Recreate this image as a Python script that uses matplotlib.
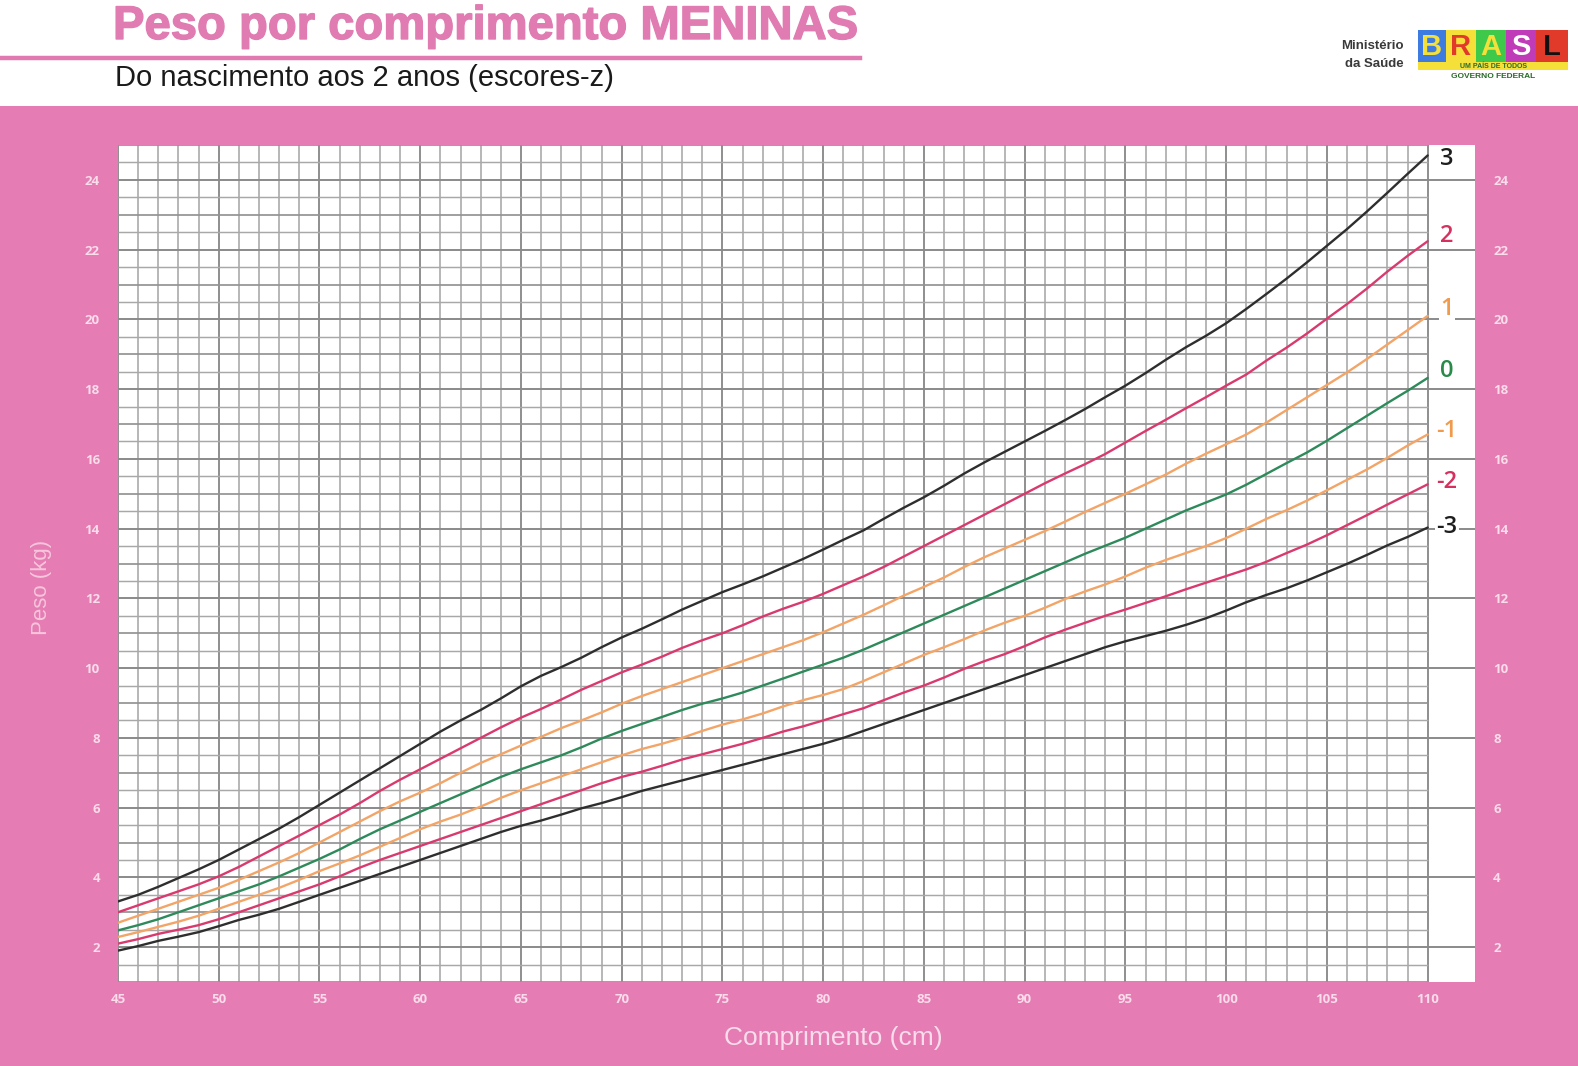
import numpy as np
import matplotlib
matplotlib.use("Agg")
import matplotlib.pyplot as plt
import matplotlib.patheffects as pe
from matplotlib.patches import Rectangle
from matplotlib.lines import Line2D

# ---------------- data ----------------
length_cm = list(range(45, 111))

z_p3 = [3.31, 3.5, 3.73, 3.98, 4.23, 4.5, 4.8, 5.1, 5.4, 5.73, 6.08, 6.43, 6.78, 7.13, 7.48,
        7.83, 8.18, 8.5, 8.8, 9.13, 9.48, 9.78, 10.03, 10.3, 10.6, 10.88, 11.13, 11.4, 11.68,
        11.93, 12.18, 12.4, 12.63, 12.88, 13.13, 13.4, 13.68, 13.95, 14.28, 14.6, 14.9, 15.23,
        15.58, 15.9, 16.2, 16.5, 16.8, 17.11, 17.43, 17.77, 18.1, 18.46, 18.84, 19.2, 19.53,
        19.89, 20.3, 20.73, 21.17, 21.63, 22.11, 22.59, 23.1, 23.63, 24.17, 24.7]
z_p2 = [3.0, 3.2, 3.4, 3.6, 3.8, 4.03, 4.3, 4.6, 4.9, 5.2, 5.5, 5.8, 6.13, 6.48, 6.8, 7.1,
        7.4, 7.7, 8.0, 8.3, 8.58, 8.83, 9.1, 9.38, 9.63, 9.88, 10.1, 10.33, 10.58, 10.8, 11.0,
        11.23, 11.48, 11.7, 11.9, 12.13, 12.38, 12.63, 12.9, 13.2, 13.5, 13.8, 14.1, 14.4, 14.7,
        15.0, 15.3, 15.58, 15.85, 16.14, 16.47, 16.8, 17.12, 17.45, 17.77, 18.1, 18.42, 18.82,
        19.19, 19.59, 20.02, 20.44, 20.89, 21.37, 21.82, 22.24]
z_p1 = [2.7, 2.9, 3.1, 3.3, 3.5, 3.7, 3.93, 4.18, 4.43, 4.7, 5.0, 5.3, 5.6, 5.9, 6.18, 6.43,
        6.7, 7.0, 7.28, 7.53, 7.78, 8.03, 8.28, 8.5, 8.73, 8.98, 9.2, 9.4, 9.6, 9.8, 10.0,
        10.2, 10.4, 10.6, 10.8, 11.03, 11.28, 11.53, 11.8, 12.08, 12.33, 12.6, 12.9, 13.18,
        13.43, 13.68, 13.93, 14.2, 14.48, 14.74, 15.0, 15.27, 15.55, 15.86, 16.15, 16.42,
        16.7, 17.04, 17.4, 17.76, 18.12, 18.48, 18.87, 19.28, 19.69, 20.1]
z_0 = [2.48, 2.63, 2.8, 3.0, 3.2, 3.4, 3.6, 3.8, 4.03, 4.28, 4.53, 4.8, 5.1, 5.38, 5.63,
       5.88, 6.13, 6.38, 6.63, 6.88, 7.1, 7.3, 7.5, 7.73, 7.98, 8.2, 8.4, 8.6, 8.8, 8.98,
       9.13, 9.3, 9.5, 9.7, 9.9, 10.1, 10.3, 10.53, 10.78, 11.03, 11.28, 11.53, 11.78, 12.03,
       12.28, 12.53, 12.78, 13.03, 13.28, 13.51, 13.74, 14.0, 14.26, 14.52, 14.75, 14.98,
       15.26, 15.57, 15.88, 16.18, 16.52, 16.88, 17.24, 17.6, 17.95, 18.32]
z_m1 = [2.29, 2.43, 2.58, 2.73, 2.9, 3.1, 3.3, 3.5, 3.7, 3.93, 4.18, 4.4, 4.63, 4.88, 5.13,
        5.38, 5.6, 5.8, 6.03, 6.28, 6.5, 6.7, 6.9, 7.1, 7.3, 7.5, 7.68, 7.83, 8.0, 8.2, 8.38,
        8.53, 8.7, 8.9, 9.08, 9.23, 9.4, 9.63, 9.88, 10.13, 10.38, 10.6, 10.83, 11.08, 11.3,
        11.5, 11.73, 11.98, 12.2, 12.4, 12.63, 12.88, 13.1, 13.3, 13.5, 13.73, 14.0, 14.28,
        14.53, 14.8, 15.1, 15.4, 15.7, 16.03, 16.38, 16.7]
z_m2 = [2.1, 2.23, 2.38, 2.5, 2.63, 2.8, 3.0, 3.2, 3.4, 3.6, 3.8, 4.03, 4.28, 4.5, 4.7, 4.9,
        5.1, 5.3, 5.5, 5.7, 5.9, 6.1, 6.3, 6.5, 6.7, 6.88, 7.03, 7.2, 7.38, 7.53, 7.68, 7.83,
        8.0, 8.18, 8.33, 8.5, 8.68, 8.85, 9.08, 9.3, 9.5, 9.73, 9.98, 10.2, 10.4, 10.63, 10.88,
        11.1, 11.3, 11.5, 11.68, 11.87, 12.06, 12.26, 12.45, 12.64, 12.83, 13.05, 13.3, 13.54,
        13.81, 14.1, 14.39, 14.69, 14.98, 15.27]
z_m3 = [1.9, 2.03, 2.18, 2.3, 2.43, 2.6, 2.78, 2.93, 3.1, 3.3, 3.5, 3.7, 3.9, 4.1, 4.3, 4.5,
        4.7, 4.9, 5.1, 5.3, 5.48, 5.63, 5.8, 5.98, 6.13, 6.3, 6.48, 6.63, 6.78, 6.93, 7.08,
        7.23, 7.38, 7.53, 7.68, 7.83, 8.0, 8.2, 8.4, 8.6, 8.8, 9.0, 9.2, 9.4, 9.6, 9.8, 10.0,
        10.2, 10.4, 10.6, 10.77, 10.92, 11.07, 11.24, 11.43, 11.65, 11.89, 12.1, 12.29, 12.51,
        12.75, 12.99, 13.25, 13.52, 13.76, 14.03]

curve_labels = ["3", "2", "1", "0", "-1", "-2", "-3"]
x_ticks = list(range(45, 111, 5))
y_ticks = list(range(2, 25, 2))

title = "Peso por comprimento MENINAS"
subtitle = "Do nascimento aos 2 anos (escores-z)"
xlabel = "Comprimento (cm)"
ylabel = "Peso (kg)"

# ---------------- styling ----------------
W, H = 1578, 1066
PINK = "#E57CB3"
TITLE_PINK = "#E07CB1"
TICK_PINK = "#FADCEB"
colors = {"3": "#2e2e2e", "2": "#D93A6E", "1": "#F3A467", "0": "#2E8A5A",
          "-1": "#F3A467", "-2": "#D93A6E", "-3": "#2e2e2e"}
label_colors = {"3": "#1e1e1e", "2": "#D6305F", "1": "#F09A4C", "0": "#2A8A4A",
                "-1": "#F09A4C", "-2": "#D6305F", "-3": "#1e1e1e"}
label_dy = {"3": -0.1, "2": 0.15, "1": 0.2, "0": 0.2, "-1": 0.1, "-2": 0.06, "-3": 0.03}


def fx(px):
    return px / W


def fy(py):
    return 1 - py / H


fig = plt.figure(figsize=(W / 100, H / 100), dpi=100, facecolor="white")

# pink panel
fig.add_artist(Rectangle((0, 0), 1, fy(106), transform=fig.transFigure,
                         facecolor=PINK, edgecolor="none", zorder=0))
# title and rule
fig.text(fx(113), fy(39), title, fontsize=34, fontweight="bold", family="Liberation Sans",
         color=TITLE_PINK, va="baseline", ha="left",
         path_effects=[pe.withStroke(linewidth=1.0, foreground=TITLE_PINK)])
fig.add_artist(Line2D([0, fx(860)], [fy(58), fy(58)], transform=fig.transFigure,
                      color="#E07AB0", lw=3.2))
fig.text(fx(115), fy(78.5), subtitle, fontsize=21, family="Liberation Sans",
         color="#1a1a1a", va="center", ha="left")

# logo approximation
fig.text(fx(1404), fy(46), "Ministério", fontsize=9.5, fontweight="bold",
         family="Liberation Sans", color="#3a3a3a", ha="right", va="center")
fig.text(fx(1404), fy(64), "da Saúde", fontsize=9.5, fontweight="bold",
         family="Liberation Sans", color="#3a3a3a", ha="right", va="center")
blocks = [(1418, 1446, "#3D7BE0"), (1446, 1476, "#F5E03A"), (1476, 1506, "#3FC94A"),
          (1506, 1536, "#C03BB8"), (1536, 1568, "#E23A2A")]
for x0, x1, c in blocks:
    fig.add_artist(Rectangle((fx(x0), fy(62)), fx(x1) - fx(x0), fy(30) - fy(62),
                             transform=fig.transFigure, facecolor=c, edgecolor="none"))
for ch, xc, c in [("B", 1432, "#F5E03A"), ("R", 1461, "#E23A2A"), ("A", 1491, "#F5E03A"),
                  ("S", 1521, "white"), ("L", 1552, "#111111")]:
    fig.text(fx(xc), fy(47), ch, fontsize=21, fontweight="bold", family="Liberation Sans",
             color=c, ha="center", va="center")
fig.add_artist(Rectangle((fx(1418), fy(70)), fx(1568) - fx(1418), fy(62) - fy(70),
                         transform=fig.transFigure, facecolor="#F5E03A", edgecolor="none"))
fig.text(fx(1493), fy(66), "UM PAÍS DE TODOS", fontsize=5, fontweight="bold",
         family="Liberation Sans", color="#2a6a2a", ha="center", va="center")
fig.text(fx(1493), fy(76), "GOVERNO FEDERAL", fontsize=6, fontweight="bold",
         family="Liberation Sans", color="#2a6a2a", ha="center", va="center")

# axes
ax = fig.add_axes([fx(118), fy(982), fx(1475) - fx(118), fy(145) - fy(982)])
ax.set_facecolor("white")
ax.set_xlim(45, 112.35)
ax.set_ylim(1, 25)
for s in ax.spines.values():
    s.set_visible(False)

# grid
for xv in np.arange(45, 111, 1):
    major = (xv % 5 == 0)
    ax.vlines(xv, 1, 25, color="#8e8e8e" if major else "#a3a3a3",
              lw=1.4 if major else 1.1, zorder=1)
for yv in np.arange(1, 25.01, 0.5):
    if yv % 2 == 0:
        ax.hlines(yv, 45, 112.35, color="#8a8a8a", lw=1.4, zorder=1)
    elif yv % 1 == 0:
        ax.hlines(yv, 45, 110, color="#939393", lw=1.25, zorder=1)
    else:
        ax.hlines(yv, 45, 110, color="#a8a8a8", lw=1.05, zorder=1)

# curves
series = [z_p3, z_p2, z_p1, z_0, z_m1, z_m2, z_m3]
for lab, ys in zip(curve_labels, series):
    ax.plot(length_cm, ys, color=colors[lab], lw=1.7, zorder=3,
            solid_capstyle="round", solid_joinstyle="round")
    ax.text(110.95, ys[-1] + label_dy[lab], lab, color=label_colors[lab], fontsize=17,
            family="Open Sans", fontweight="semibold", ha="center", va="center", zorder=5,
            bbox=dict(facecolor="white", edgecolor="none", pad=1.0))

# ticks
ax.set_xticks(x_ticks)
ax.set_yticks(y_ticks)
ax.tick_params(axis="both", length=0, labelsize=9.5, labelcolor=TICK_PINK)
ax.tick_params(axis="y", labelleft=True, labelright=True, pad=13)
ax.tick_params(axis="x", pad=8)
for t in ax.get_xticklabels() + ax.get_yticklabels():
    t.set_fontweight("bold")
    t.set_family("Open Sans")

fig.text(fx(833), fy(1038), xlabel, fontsize=19, family="Liberation Sans",
         color="#F9DDEC", ha="center", va="center")
fig.text(fx(42), fy(587), ylabel, fontsize=16, family="Liberation Sans",
         color="#F6C6DD", ha="center", va="center", rotation=90)

fig.savefig("out.png", dpi=100, facecolor="white")
